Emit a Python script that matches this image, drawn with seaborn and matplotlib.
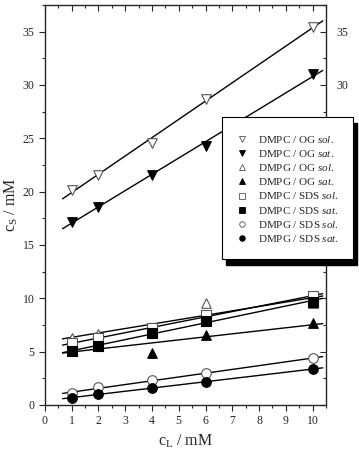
import numpy as np
import pandas as pd
import matplotlib
matplotlib.use("Agg")
import matplotlib.pyplot as plt
from matplotlib.lines import Line2D
from matplotlib.patches import Rectangle
from matplotlib.ticker import MultipleLocator
import seaborn as sns

# data
c_L = [1, 2, 4, 6, 10]
series = [
    "DMPC / OG sol.", "DMPC / OG sat.",
    "DMPG / OG sol.", "DMPG / OG sat.",
    "DMPC / SDS sol.", "DMPC / SDS sat.",
    "DMPG / SDS sol.", "DMPG / SDS sat.",
]
dmpc_og_sol = [20.15, 21.6, 24.6, 28.7, 35.4]
dmpc_og_sat = [17.2, 18.6, 21.6, 24.3, 31.0]
dmpg_og_sol = [6.25, 6.7, 7.0, 9.6, 9.6]
dmpg_og_sat = [5.2, 5.6, 4.9, 6.55, 7.7]
dmpc_sds_sol = [5.8, 6.25, 7.2, 8.4, 10.2]
dmpc_sds_sat = [5.05, 5.5, 6.75, 7.85, 9.7]
dmpg_sds_sol = [1.1, 1.65, 2.3, 3.0, 4.37]
dmpg_sds_sat = [0.7, 1.0, 1.55, 2.2, 3.37]
values = [dmpc_og_sol, dmpc_og_sat, dmpg_og_sol, dmpg_og_sat,
          dmpc_sds_sol, dmpc_sds_sat, dmpg_sds_sol, dmpg_sds_sat]

markers = ["v", "v", "^", "^", "s", "s", "o", "o"]
filled = [False, True, False, True, False, True, False, True]

sns.set_style("ticks")
plt.rcParams["font.family"] = ["Liberation Serif", "DejaVu Serif"]
plt.rcParams["mathtext.fontset"] = "custom"
plt.rcParams["mathtext.rm"] = "Liberation Serif"
plt.rcParams["mathtext.it"] = "Liberation Serif:italic"

fig = plt.figure(figsize=(3.59, 4.51), dpi=100)
ax = fig.add_axes([0.125, 0.102, 0.783, 0.887])

fit_x = np.array([0.66, 10.38])
for name, y, m, f in zip(series, values, markers, filled):
    df = pd.DataFrame({"x": c_L, "y": y})
    k, b = np.polyfit(df.x, df.y, 1)
    line = pd.DataFrame({"x": fit_x, "y": k * fit_x + b})
    sns.lineplot(data=line, x="x", y="y", ax=ax, color="black", lw=1.0, zorder=2)
    sns.scatterplot(data=df, x="x", y="y", ax=ax, marker=m, s=48,
                    facecolor="black" if f else "white",
                    edgecolor="black" if f else "#555555",
                    linewidth=0.8, zorder=3)

ax.set_xlim(0, 10.5)
ax.set_ylim(0, 37.5)
ax.xaxis.set_major_locator(MultipleLocator(1))
ax.xaxis.set_minor_locator(MultipleLocator(0.5))
ax.yaxis.set_major_locator(MultipleLocator(5))
ax.yaxis.set_minor_locator(MultipleLocator(2.5))
ax.tick_params(which="both", left=True, bottom=True, top=True, right=True,
               labelright=True, labelsize=8.5, width=0.8, direction="out")
ax.tick_params(which="major", length=4)
ax.tick_params(which="minor", length=2.5)
for spine in ax.spines.values():
    spine.set_linewidth(1.0)
# top/right ticks point inward
for tk in ax.xaxis.get_major_ticks() + ax.xaxis.get_minor_ticks():
    tk.tick2line.set_marker(matplotlib.markers.TICKDOWN)
for tk in ax.yaxis.get_major_ticks() + ax.yaxis.get_minor_ticks():
    tk.tick2line.set_marker(matplotlib.markers.TICKLEFT)
# right-hand labels that sit under the legend box are not visible
for tk in ax.yaxis.get_major_ticks():
    if 12 < tk.get_loc() < 28:
        tk.label2.set_visible(False)

ax.set_xlabel("c$_\\mathrm{L}$ / mM", fontsize=11.5, labelpad=4)
ax.set_ylabel("c$_\\mathrm{S}$ / mM", fontsize=11.5, labelpad=2)

# legend box with shadow
shadow = Rectangle((0.630, 0.413), 0.365, 0.315, transform=fig.transFigure,
                   facecolor="black", edgecolor="black", zorder=5)
box = Rectangle((0.618, 0.4257), 0.365, 0.315, transform=fig.transFigure,
                facecolor="white", edgecolor="black", lw=0.8, zorder=6)
fig.patches.extend([shadow, box])

handles = []
for name, m, f in zip(series, markers, filled):
    handles.append(Line2D([], [], ls="none", marker=m, markersize=4,
                          markerfacecolor="black" if f else "white",
                          markeredgecolor="black" if f else "#555555",
                          markeredgewidth=0.6))
labels = [n.replace(" sol.", " $\\it{sol.}$").replace(" sat.", " $\\it{sat.}$")
          for n in series]
leg = fig.legend(handles, labels, loc="upper left", bbox_to_anchor=(0.662, 0.703),
                 frameon=False, fontsize=8, handlelength=0.8, handletextpad=1.0,
                 labelspacing=0.28, borderpad=0, borderaxespad=0)
leg.set_zorder(7)

fig.savefig("out.png", dpi=100)
